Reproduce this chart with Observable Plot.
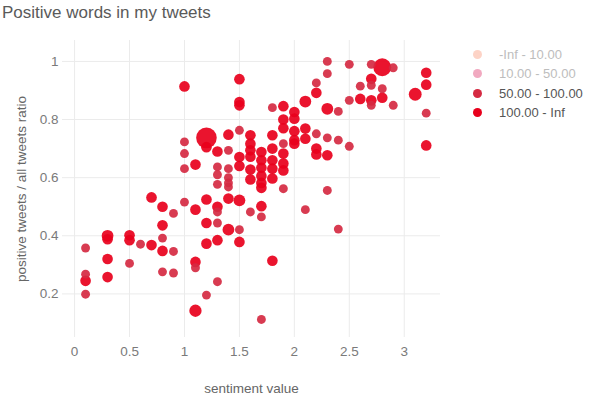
<!DOCTYPE html>
<html>
<head>
<meta charset="utf-8">
<script src="https://cdn.jsdelivr.net/npm/d3@7"></script>
<script src="https://cdn.jsdelivr.net/npm/@observablehq/plot@0.6"></script>
<style>
  html, body { margin: 0; padding: 0; background: #fff; }
  body { width: 600px; height: 400px; overflow: hidden; position: relative; font-family: "Liberation Sans", Arial, sans-serif; }
  #title { height: 32px; box-sizing: border-box; padding: 1px 0 0 2px; font-size: 17px; line-height: 24px; color: #5a5a5a; }
  #legend { position: absolute; left: 473px; top: 45px; }
  .row { height: 19.3px; display: flex; align-items: center; font-size: 13px; }
  .dot { width: 9px; height: 9px; border-radius: 50%; margin-right: 17px; }
</style>
</head>
<body>
<div id="title">Positive words in my tweets</div>
<div id="chart"></div>
<div id="legend"></div>
<script>
// sentiment value, positive/all ratio, tweet count per point
const sentimentValues = [
  0.1,0.1,0.1,0.1,
  0.3,0.3,0.3,0.3,
  0.5,0.5,0.5,
  0.6,
  0.7,0.7,
  0.8,0.8,0.8,0.8,0.8,
  0.9,0.9,0.9,
  1.0,1.0,1.0,1.0,1.0,
  1.1,1.1,1.1,1.1,1.1,
  1.2,1.2,1.2,1.2,1.2,1.2,
  1.3,1.3,1.3,1.3,1.3,1.3,1.3,1.3,1.3,
  1.4,1.4,1.4,1.4,1.4,1.4,1.4,1.4,
  1.5,1.5,1.5,1.5,1.5,1.5,1.5,1.5,1.5,
  1.6,1.6,1.6,1.6,1.6,1.6,1.6,
  1.7,1.7,1.7,1.7,1.7,1.7,1.7,1.7,1.7,
  1.8,1.8,1.8,1.8,1.8,1.8,1.8,
  1.9,1.9,1.9,1.9,1.9,1.9,1.9,1.9,
  2.0,2.0,2.0,2.0,2.0,
  2.1,2.1,2.1,2.1,
  2.2,2.2,2.2,2.2,2.2,
  2.3,2.3,2.3,2.3,2.3,2.3,
  2.4,2.4,2.4,
  2.5,2.5,2.5,
  2.6,2.6,
  2.7,2.7,2.7,2.7,2.7,
  2.8,2.8,2.8,
  2.9,2.9,
  3.1,
  3.2,3.2,3.2,3.2
];
const ratios = [
  0.358,0.268,0.245,0.199,
  0.400,0.388,0.320,0.258,
  0.402,0.385,0.305,
  0.371,
  0.532,0.368,
  0.500,0.436,0.392,0.348,0.276,
  0.477,0.346,0.272,
  0.914,0.723,0.683,0.631,0.516,
  0.645,0.490,0.310,0.290,0.142,
  0.737,0.705,0.525,0.444,0.373,0.196,
  0.690,0.637,0.610,0.577,0.500,0.482,0.444,0.385,0.242,
  0.748,0.694,0.631,0.600,0.582,0.568,0.528,0.421,
  0.939,0.860,0.849,0.763,0.671,0.640,0.522,0.421,0.379,
  0.746,0.717,0.694,0.672,0.628,0.594,0.482,
  0.688,0.660,0.634,0.606,0.582,0.565,0.502,0.465,0.112,
  0.841,0.746,0.700,0.660,0.631,0.597,0.314,
  0.846,0.800,0.770,0.717,0.683,0.649,0.625,0.562,
  0.826,0.803,0.760,0.729,0.717,
  0.862,0.769,0.734,0.490,
  0.926,0.892,0.751,0.700,0.680,
  1.000,0.958,0.837,0.737,0.677,0.556,
  0.828,0.729,0.423,
  0.990,0.866,0.708,
  0.915,0.871,
  0.990,0.940,0.918,0.866,0.849,
  0.980,0.906,0.875,
  0.978,0.849,
  0.887,
  0.961,0.920,0.822,0.711
];
const tweetCounts = [
  90,90,140,90,
  180,140,140,140,
  140,140,90,
  90,
  140,140,
  140,140,90,140,90,
  90,90,90,
  140,90,90,90,90,
  140,140,140,90,200,
  700,140,140,140,140,90,
  140,90,90,90,140,90,90,140,90,
  140,90,90,90,90,90,140,180,
  140,140,140,90,140,140,180,90,140,
  140,140,140,140,140,140,90,
  140,140,140,140,140,140,140,90,90,
  90,140,140,140,140,140,140,
  140,140,140,90,140,140,140,90,
  140,140,140,140,140,
  180,140,140,90,
  90,140,90,140,140,
  90,90,180,90,140,90,
  90,90,90,
  90,90,90,
  90,140,
  90,140,90,140,90,
  500,90,140,
  90,90,
  220,
  140,140,90,140
];
const legendLabels = ["-Inf - 10.00", "10.00 - 50.00", "50.00 - 100.00", "100.00 - Inf"];
const legendBreaks = [10, 50, 100];
const legendColors = ["#fdd3c6", "#f1a9c0", "#d52a42", "#e8001c"];
const legendTextColors = ["#bdbdbd", "#bdbdbd", "#555555", "#555555"];
const xTicks = [0, 0.5, 1, 1.5, 2, 2.5, 3];
const yTicks = [0.2, 0.4, 0.6, 0.8, 1];
const xTitle = "sentiment value";
const yTitle = "positive tweets / all tweets ratio";

const classOf = n => legendLabels[legendBreaks.filter(b => n >= b).length];
const data = sentimentValues.map((x, i) => ({x, y: ratios[i], n: tweetCounts[i], cls: classOf(tweetCounts[i])}));

const chart = Plot.plot({
  width: 600,
  height: 368,
  marginTop: 8,
  marginLeft: 62,
  marginRight: 160,
  marginBottom: 63,
  style: {fontFamily: "'Liberation Sans', Arial, sans-serif", color: "#7a7a7a", background: "#fff"},
  x: {domain: [-0.11, 3.33]},
  y: {domain: [0.05, 1.072]},
  r: {type: "pow", exponent: 0.41, domain: [0, 700], range: [0, 10.3]},
  color: {domain: legendLabels, range: legendColors},
  marks: [
    Plot.gridX(xTicks, {stroke: "#ebebeb", strokeOpacity: 1, strokeWidth: 1}),
    Plot.gridY(yTicks, {stroke: "#ebebeb", strokeOpacity: 1, strokeWidth: 1}),
    Plot.axisX(xTicks, {tickSize: 0, tickPadding: 9, tickFormat: d3.format("~g"), fontSize: 13.5,
      label: xTitle, labelAnchor: "center", labelOffset: 55}),
    Plot.axisY(yTicks, {tickSize: 0, tickPadding: 4, tickFormat: d3.format("~g"), fontSize: 13.5,
      label: yTitle, labelAnchor: "center", labelOffset: 46}),
    Plot.dot(data, {x: "x", y: "y", r: "n", fill: "cls", fillOpacity: 0.92, stroke: "none"})
  ]
});
document.getElementById("chart").appendChild(chart);
// strip the direction arrows Plot appends to axis titles, and tint them
d3.select(chart).selectAll("text").each(function() {
  const t = this.textContent;
  if (t.includes(xTitle) || t.includes(yTitle)) {
    const clean = t.includes(xTitle) ? xTitle : yTitle;
    d3.select(this).selectAll("tspan").remove();
    d3.select(this).text(clean).attr("fill", "#666").style("font-size", "13.5px");
  }
});

const legend = d3.select("#legend");
legendLabels.forEach((lab, i) => {
  const row = legend.append("div").attr("class", "row");
  row.append("span").attr("class", "dot").style("background", legendColors[i]);
  row.append("span").text(lab).style("color", legendTextColors[i]);
});
</script>
</body>
</html>
